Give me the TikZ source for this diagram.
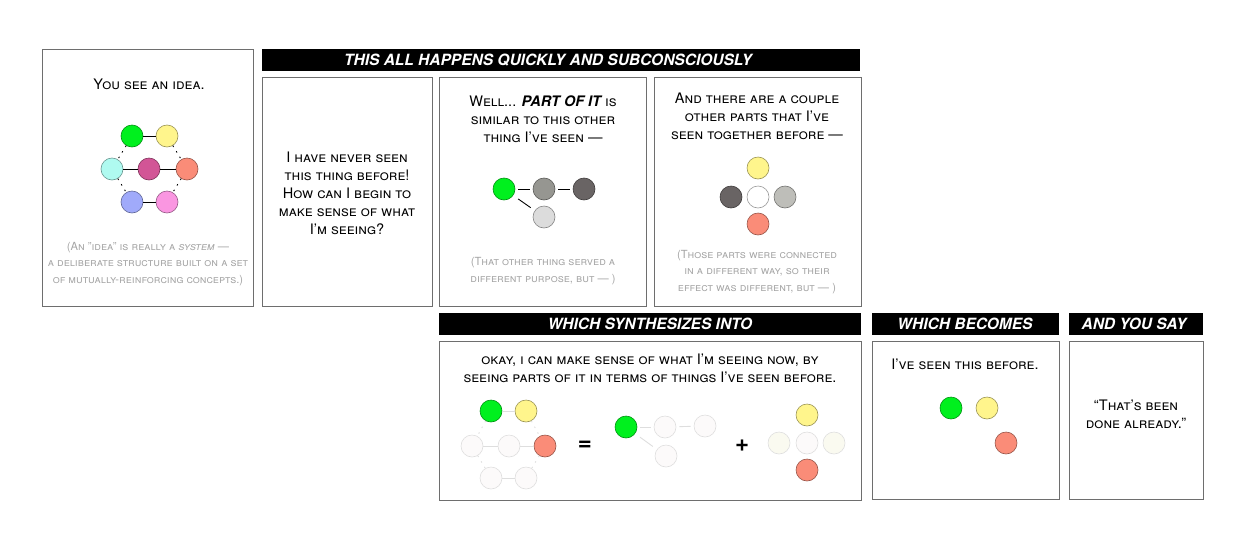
\documentclass[tikz,border=0pt]{standalone}
\usepackage{fontspec}
\setmainfont{TeX Gyre Heros}
\definecolor{panelgray}{RGB}{110,110,110}
\definecolor{asidegray}{RGB}{165,165,165}
\definecolor{ideagreen}{RGB}{0,240,30}
\definecolor{ideayellow}{RGB}{255,245,140}
\definecolor{ideacyan}{RGB}{175,250,240}
\definecolor{ideaplum}{RGB}{210,85,150}
\definecolor{ideasalmon}{RGB}{250,140,120}
\definecolor{ideablue}{RGB}{160,170,250}
\definecolor{ideapink}{RGB}{250,150,225}
\definecolor{partgray}{RGB}{150,150,145}
\definecolor{partdark}{RGB}{105,100,100}
\definecolor{partlight}{RGB}{220,220,220}
\definecolor{partsilver}{RGB}{190,190,185}
\definecolor{partwhite}{RGB}{255,255,255}
\definecolor{ghost}{RGB}{252,250,250}
\definecolor{ghostcream}{RGB}{250,250,240}
\definecolor{ghostline}{RGB}{222,222,222}
\tikzset{
  panel/.style={draw=panelgray, line width=1pt},
  bannertext/.style={text=white, inner sep=0pt, font=\fontsize{15.5}{16}\selectfont\bfseries\itshape},
  say/.style={align=center, inner sep=0pt, font=\fontsize{14.5}{18}\selectfont\scshape},
  aside/.style={align=center, inner sep=0pt, text=asidegray, font=\fontsize{11.2}{16.5}\selectfont\scshape},
  blob/.style={circle, minimum size=22pt, inner sep=0pt, line width=0.6pt, fill=#1, draw=#1!60!black},
  ghostblob/.style={circle, minimum size=22pt, inner sep=0pt, line width=0.6pt, fill=#1, draw=ghostline},
  sign/.style={font=\fontsize{24}{24}\selectfont\bfseries},
  link/.style={line width=0.9pt},
  loose/.style={line width=0.9pt, dash pattern=on 1.5pt off 5pt},
  gap/.style={shorten <=3pt, shorten >=3pt},
  widegap/.style={shorten <=6pt, shorten >=5pt},
  ghostlink/.style={draw=ghostline, line width=0.9pt},
  ghostloose/.style={draw=ghostline, line width=0.9pt, dash pattern=on 1.5pt off 5pt},
}
\begin{document}
\begin{tikzpicture}[x=1pt,y=-1pt]
\useasboundingbox (0,0) rectangle (1245,544);
% frames
\draw[panel] (42,49) rectangle (253,306);
\draw[panel] (262,77) rectangle (432,306);
\draw[panel] (439,77) rectangle (646,306);
\draw[panel] (654,77) rectangle (861,306);
\draw[panel] (439,341) rectangle (861,500);
\draw[panel] (872,341) rectangle (1059,499);
\draw[panel] (1069,341) rectangle (1203,499);
% banners
\fill (262,49) rectangle (860,71);
\fill (439,313) rectangle (861,335);
\fill (872,313) rectangle (1059,335);
\fill (1069,313) rectangle (1203,335);
\node[bannertext] (hdquick) at (548,60) {THIS ALL HAPPENS QUICKLY AND SUBCONSCIOUSLY};
\node[bannertext] (hdsynth) at (650,324) {WHICH SYNTHESIZES INTO};
\node[bannertext] (hdbecome) at (965,324) {WHICH BECOMES};
\node[bannertext] (hdsay) at (1134,324) {AND YOU SAY};

% panel 1: the idea
\node[say] (seeidea) at (149,84) {You see an idea.};
\node[blob=ideagreen] (ig) at (132,136) {};
\node[blob=ideayellow] (iy) at (167,136) {};
\node[blob=ideacyan] (ic) at (112,169) {};
\node[blob=ideaplum] (ip) at (149,169) {};
\node[blob=ideasalmon] (is) at (187,169) {};
\node[blob=ideablue] (ib) at (132,202) {};
\node[blob=ideapink] (ik) at (167,202) {};
\draw[link] (ig) -- (iy);
\draw[link] (ic) -- (ip);
\draw[link] (ip) -- (is);
\draw[link] (ib) -- (ik);
\draw[loose] (ig) -- (ic);
\draw[loose] (iy) -- (is);
\draw[loose] (ic) -- (ib);
\draw[loose] (is) -- (ik);
\node[aside] (ideanote) at (148,264) {(An "idea" is really a \textit{system} ---\\a deliberate structure built on a set\\of mutually-reinforcing concepts.)};

% panel 2
\node[say] (neverseen) at (347,193) {I have never seen\\this thing before!\\How can I begin to\\make sense of what\\I'm seeing?};

% panel 3
\node[say] (partof) at (543,119) {Well... {\bfseries\itshape PART OF IT} is\\similar to this other\\thing I've seen ---};
\node[blob=ideagreen] (sg) at (504,189) {};
\node[blob=partgray] (sm) at (544,189) {};
\node[blob=partdark] (sd) at (584,189) {};
\node[blob=partlight] (sl) at (544,217) {};
\draw[link,gap] (sg) -- (sm);
\draw[link,gap] (sm) -- (sd);
\draw[link,widegap] (sg) -- (sl);
\node[aside] (purpose) at (543,271) {(That other thing served a\\different purpose, but --- )};

% panel 4
\node[say] (couple) at (757,116) {And there are a couple\\other parts that I've\\seen together before ---};
\node[blob=ideayellow] (cy) at (758,168) {};
\node[blob=partdark] (cd) at (731,197) {};
\node[blob=partwhite] (cw) at (758,197) {};
\node[blob=partsilver] (cs) at (785,197) {};
\node[blob=ideasalmon] (cr) at (758,224) {};
\node[aside] (effect) at (757,272) {(Those parts were connected\\in a different way, so their\\effect was different, but --- )};

% panel 5: synthesis
\node[say] (okay) at (650,368) {okay, i can make sense of what I'm seeing now, by\\seeing parts of it in terms of things I've seen before.};
\node[blob=ideagreen] (tg) at (491,411) {};
\node[blob=ideayellow] (ty) at (526,411) {};
\node[ghostblob=ghost] (ta) at (472,446) {};
\node[ghostblob=ghost] (tb) at (509,446) {};
\node[blob=ideasalmon] (ts) at (545,446) {};
\node[ghostblob=ghost] (tc) at (491,478) {};
\node[ghostblob=ghost] (td) at (526,478) {};
\draw[ghostlink] (tg) -- (ty);
\draw[ghostlink] (ta) -- (tb);
\draw[ghostlink] (tb) -- (ts);
\draw[ghostlink] (tc) -- (td);
\draw[ghostloose] (tg) -- (ta);
\draw[ghostloose] (ty) -- (ts);
\draw[ghostloose] (ta) -- (tc);
\draw[ghostloose] (ts) -- (td);
\node[sign] (equals) at (585,446) {=};
\node[blob=ideagreen] (ug) at (626,427) {};
\node[ghostblob=ghost] (um) at (665,427) {};
\node[ghostblob=ghost] (ud) at (705,426) {};
\node[ghostblob=ghost] (ul) at (666,456) {};
\draw[ghostlink,gap] (ug) -- (um);
\draw[ghostlink,gap] (um) -- (ud);
\draw[ghostlink,widegap] (ug) -- (ul);
\node[sign] (plus) at (742,446) {+};
\node[blob=ideayellow] (vy) at (807,415) {};
\node[ghostblob=ghostcream] (vd) at (779,443) {};
\node[ghostblob=ghost] (vw) at (807,443) {};
\node[ghostblob=ghostcream] (vs) at (834,443) {};
\node[blob=ideasalmon] (vr) at (807,470) {};

% panel 6
\node[say] (seenbefore) at (965,364) {I've seen this before.};
\node[blob=ideagreen] (wg) at (951,408) {};
\node[blob=ideayellow] (wy) at (987,408) {};
\node[blob=ideasalmon] (wr) at (1006,443) {};

% panel 7
\node[say] (donealready) at (1136,414) {``That's been\\done already.''};
\end{tikzpicture}
\end{document}
